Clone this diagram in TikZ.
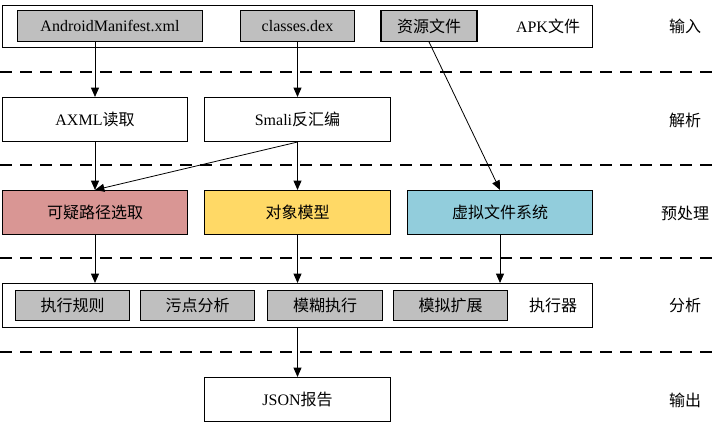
\documentclass[tikz,border=0pt]{standalone}
\usepackage{fontspec}
\setmainfont{Liberation Serif}
\newfontfamily\cjk{Noto Sans CJK SC}
\usetikzlibrary{arrows.meta}
\begin{document}
\begin{tikzpicture}[x=0.75pt,y=-0.75pt,
  box/.style={draw, thick, minimum width=139pt, minimum height=33pt, inner sep=0pt, font=\large},
  item/.style={draw, thick, fill=gray!50, minimum height=23pt, inner sep=0pt, font=\large},
  lab/.style={font=\large\cjk},
  sep/.style={dashed, thick, dash pattern=on 9pt off 6pt},
  arrow/.style={-{Triangle[length=7pt,width=6pt]}, semithick}
]
\useasboundingbox (0,0) rectangle (713,427);

% Input
\node[draw, thick, minimum width=443pt, minimum height=32pt, inner sep=0pt] (apk) at (297.5,26.5) {};
\node[item, minimum width=139pt] (manifest) at (110,26) {AndroidManifest.xml};
\node[item, minimum width=86pt] (dex) at (297.5,26) {classes.dex};
\node[item, minimum width=72pt] (res) at (429,26) {\cjk 资源文件};
\node[font=\large] (apklab) at (548,26) {APK{\cjk 文件}};
\node[lab] (l1) at (685,26) {输入};
\draw[sep] (0,72) -- (713,72);

% Parse
\node[box] (axml) at (95,119.5) {AXML{\cjk 读取}};
\node[box] (smali) at (297.5,119.5) {Smali{\cjk 反汇编}};
\node[lab] (l2) at (685,120) {解析};
\draw[sep] (0,165) -- (713,165);

% Preprocess
\node[box, fill={rgb,255:red,217;green,150;blue,148}] (path) at (95,212.5) {\cjk 可疑路径选取};
\node[box, fill={rgb,255:red,255;green,217;blue,102}] (model) at (297.5,212.5) {\cjk 对象模型};
\node[box, fill={rgb,255:red,146;green,205;blue,220}] (vfs) at (500,212.5) {\cjk 虚拟文件系统};
\node[lab] (l3) at (685,213) {预处理};
\draw[sep] (0,258) -- (713,258);

% Analysis
\node[draw, thick, minimum width=443pt, minimum height=33pt, inner sep=0pt] (exec) at (297.5,305.5) {};
\node[item, minimum width=86pt] (rule) at (72.5,305.5) {\cjk 执行规则};
\node[item, minimum width=86pt] (taint) at (197.5,305.5) {\cjk 污点分析};
\node[item, minimum width=86pt] (fuzz) at (325,305.5) {\cjk 模糊执行};
\node[item, minimum width=86pt] (sim) at (450.5,305.5) {\cjk 模拟扩展};
\node[lab] (execlab) at (553,305.5) {执行器};
\node[lab] (l4) at (685,305.5) {分析};
\draw[sep] (0,352) -- (713,352);

% Output
\node[box] (json) at (297.5,399.5) {JSON{\cjk 报告}};
\node[lab] (l5) at (685,400) {输出};

% Connections
\draw[arrow] (manifest.south -| axml) -- (axml.north);
\draw[arrow] (dex.south) -- (dex.south |- smali.north);
\draw[arrow] (res.south) -- (vfs.north);
\draw[arrow] (axml.south) -- (path.north);
\draw[arrow] (smali.south) -- (path.north);
\draw[arrow] (smali.south) -- (model.north);
\draw[arrow] (path.south) -- (path.south |- exec.north);
\draw[arrow] (model.south) -- (model.south |- exec.north);
\draw[arrow] (vfs.south) -- (vfs.south |- exec.north);
\draw[arrow] (exec.south) -- (json.north);
\end{tikzpicture}
\end{document}
